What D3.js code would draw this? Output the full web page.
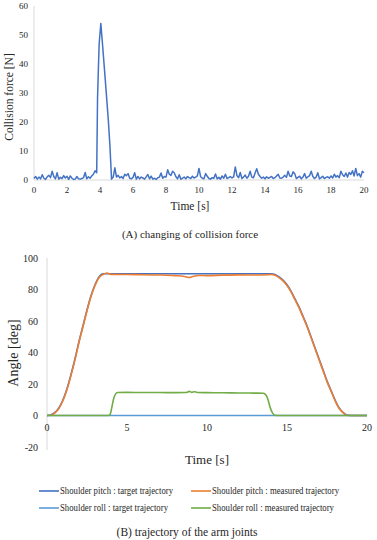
<!DOCTYPE html>
<html>
<head>
<meta charset="utf-8">
<script src="https://cdn.jsdelivr.net/npm/d3@7"></script>
<style>
  body { margin: 0; background: #fff; }
  svg text { font-family: "Liberation Serif", "DejaVu Serif", serif; fill: #262626; }
</style>
</head>
<body>
<div id="chart-area"></div>
<script>
// (A) collision force, [time, N]
var forceData = [
  [0.0,0.5],[0.1,1.2],[0.2,0.3],[0.3,1.0],[0.4,0.4],[0.5,1.8],[0.6,0.6],[0.7,0.2],[0.8,1.1],[0.9,1.6],
  [1.0,0.8],[1.1,3.0],[1.2,1.2],[1.3,0.4],[1.4,2.5],[1.5,0.3],[1.6,0.9],[1.7,0.5],[1.8,1.5],[1.9,0.7],
  [2.0,1.3],[2.1,0.2],[2.2,1.4],[2.3,0.6],[2.4,0.2],[2.5,0.3],[2.6,1.2],[2.7,0.4],[2.8,0.3],[2.9,0.5],
  [3.0,0.8],[3.1,2.6],[3.2,0.4],[3.3,1.1],[3.4,0.6],[3.5,1.4],[3.6,2.0],[3.7,3.2],[3.8,2.5],
  [3.85,28],[3.9,38],[3.95,47],[4.05,54],[4.15,47],[4.3,36],[4.5,21],[4.6,12],[4.7,0.3],[4.8,1.0],[4.9,4.2],
  [5.0,1.0],[5.1,1.6],[5.2,0.7],[5.3,1.2],[5.4,0.5],[5.5,2.0],[5.6,1.5],[5.7,2.2],[5.8,0.6],[5.9,0.4],
  [6.0,0.9],[6.1,2.5],[6.2,0.3],[6.3,1.2],[6.4,0.4],[6.5,1.0],[6.6,0.7],[6.7,0.3],[6.8,1.1],[6.9,1.9],
  [7.0,0.4],[7.1,1.3],[7.2,0.3],[7.3,0.6],[7.4,0.2],[7.5,0.8],[7.6,1.0],[7.7,2.4],[7.8,0.6],[7.9,1.2],
  [8.0,1.0],[8.1,3.5],[8.2,2.0],[8.3,1.6],[8.4,3.0],[8.5,2.5],[8.6,1.1],[8.7,0.4],[8.8,1.8],[8.9,0.3],
  [9.0,0.6],[9.1,1.0],[9.2,0.4],[9.3,1.2],[9.4,0.8],[9.5,0.5],[9.6,1.3],[9.7,0.7],[9.8,1.0],[9.9,1.4],
  [10.0,4.0],[10.1,1.1],[10.2,0.6],[10.3,0.4],[10.4,2.2],[10.5,1.3],[10.6,0.5],[10.7,0.3],[10.8,0.8],[10.9,0.6],
  [11.0,2.1],[11.1,0.4],[11.2,0.9],[11.3,0.3],[11.4,1.4],[11.5,0.6],[11.6,2.0],[11.7,0.5],[11.8,0.8],[11.9,1.2],
  [12.0,0.7],[12.1,1.1],[12.2,4.5],[12.3,1.5],[12.4,0.8],[12.5,2.6],[12.6,0.5],[12.7,1.0],[12.8,1.7],[12.9,0.6],
  [13.0,1.3],[13.1,3.0],[13.2,1.0],[13.3,0.8],[13.4,2.4],[13.5,3.9],[13.6,2.0],[13.7,1.2],[13.8,0.6],[13.9,1.0],
  [14.0,0.4],[14.1,1.1],[14.2,0.6],[14.3,0.9],[14.4,1.2],[14.5,0.5],[14.6,0.8],[14.7,1.4],[14.8,2.0],[14.9,0.7],
  [15.0,0.6],[15.1,1.0],[15.2,1.6],[15.3,0.9],[15.4,3.0],[15.5,1.4],[15.6,1.2],[15.7,2.8],[15.8,2.2],[15.9,0.5],
  [16.0,0.9],[16.1,1.3],[16.2,0.4],[16.3,1.0],[16.4,2.2],[16.5,0.6],[16.6,1.1],[16.7,1.5],[16.8,3.0],[16.9,1.2],
  [17.0,0.5],[17.1,1.0],[17.2,2.5],[17.3,0.4],[17.4,0.8],[17.5,1.3],[17.6,0.5],[17.7,0.9],[17.8,1.1],[17.9,0.6],
  [18.0,1.4],[18.1,0.7],[18.2,2.0],[18.3,1.0],[18.4,1.5],[18.5,0.8],[18.6,3.0],[18.7,1.8],[18.8,1.2],[18.9,2.4],
  [19.0,1.0],[19.1,2.6],[19.2,1.9],[19.3,3.2],[19.4,1.4],[19.5,4.0],[19.6,1.5],[19.7,2.2],[19.8,1.0],[19.9,3.0],
  [20.0,2.5]
];
var forceTicksX = [0,2,4,6,8,10,12,14,16,18,20];
var forceTicksY = [0,10,20,30,40,50,60];

// (B) joint trajectories, [time, deg]
var pitchTarget = [
  [0,0],[0.25,0.5],[0.5,2],[0.75,5],[1.0,10],[1.25,17],[1.5,26],[1.75,36],[2.0,47],[2.25,57],
  [2.5,67],[2.75,76],[3.0,83],[3.25,88],[3.5,90],[14.0,90],[14.25,89.5],[14.5,88],[14.75,86],
  [15.0,83],[15.25,79],[15.5,74],[15.75,69],[16.0,63],[16.25,57],[16.5,50],[16.75,43],[17.0,36],
  [17.25,29],[17.5,22],[17.75,16],[18.0,10],[18.25,5],[18.5,2],[18.75,0.3],[19.0,0],[20,0]
];
var pitchMeasured = [
  [0,0],[0.25,0.3],[0.5,1.6],[0.75,4.5],[1.0,9.5],[1.25,16.5],[1.5,25.5],[1.75,35.5],[2.0,46.5],[2.25,56.5],
  [2.5,66.5],[2.75,75.5],[3.0,82.5],[3.25,87.5],[3.5,89.5],[3.75,90.5],[4.0,89.6],[5.0,89.5],[6.0,89.4],
  [7.0,89.2],[8.0,88.8],[8.6,88.3],[8.9,87.6],[9.1,88.2],[9.5,88.9],[10.0,88.8],[11.0,89.1],[12.0,89.3],
  [13.0,89.2],[13.8,89.4],[14.0,89.5],[14.25,89],[14.5,87.5],[14.75,85.5],[15.0,82.5],[15.25,78.5],
  [15.5,73.5],[15.75,68.5],[16.0,62.5],[16.25,56.5],[16.5,49.5],[16.75,42.5],[17.0,35.5],[17.25,28.5],
  [17.5,21.5],[17.75,15.5],[18.0,9.5],[18.25,4.6],[18.5,1.8],[18.75,0.2],[19.0,0],[20,0]
];
var rollTarget = [[0,0],[20,0]];
var rollMeasured = [
  [0,0],[3.85,0],[3.95,0.8],[4.05,5],[4.15,10],[4.25,13],[4.4,14.6],[5.0,14.7],[6.0,14.6],[7.0,14.6],
  [8.0,14.5],[8.7,14.6],[8.9,15.3],[9.05,14.7],[9.2,15.1],[9.4,14.6],[10.0,14.5],[11.0,14.4],[12.0,14.3],
  [13.0,14.2],[13.5,14.1],[13.65,13.4],[13.8,10.5],[13.95,5],[14.1,1.5],[14.25,0.2],[14.4,0],[20,0]
];
var jointNames = [
  "Shoulder pitch : target trajectory",
  "Shoulder pitch : measured trajectory",
  "Shoulder roll : target trajectory",
  "Shoulder roll : measured trajectory"
];
var jointColors = ["#4472C4", "#ED7D31", "#5B9BD5", "#70AD47"];
var jointTicksX = [0,5,10,15,20];
var jointTicksY = [-20,0,20,40,60,80,100];

var width = 377, height = 540;

var svg = d3.select("#chart-area")
    .append("svg")
    .attr("width", width)
    .attr("height", height);

svg.append("rect").attr("width", width).attr("height", height).attr("fill", "#fff");

// ---------- (A) ----------
var xA = d3.scaleLinear().domain([0, 20]).range([34, 364]);
var yA = d3.scaleLinear().domain([0, 60]).range([180, 6]);

var gA = svg.append("g");

gA.append("line")
    .attr("x1", xA(0)).attr("x2", xA(0))
    .attr("y1", yA(60)).attr("y2", yA(0))
    .attr("stroke", "#d9d9d9");
gA.append("line")
    .attr("x1", xA(0)).attr("x2", xA(20))
    .attr("y1", yA(0)).attr("y2", yA(0))
    .attr("stroke", "#d9d9d9");

gA.selectAll(".ty")
    .data(forceTicksY)
    .enter().append("text")
        .attr("x", 28)
        .attr("y", function(d) { return yA(d) + 3; })
        .attr("text-anchor", "end")
        .attr("font-size", 9)
        .text(function(d) { return d; });

gA.selectAll(".tx")
    .data(forceTicksX)
    .enter().append("text")
        .attr("x", function(d) { return xA(d); })
        .attr("y", 193)
        .attr("text-anchor", "middle")
        .attr("font-size", 9)
        .text(function(d) { return d; });

gA.append("path")
    .datum(forceData)
    .attr("fill", "none")
    .attr("stroke", "#4472C4")
    .attr("stroke-width", 1.5)
    .attr("stroke-linejoin", "round")
    .attr("d", d3.line()
        .x(function(d) { return xA(d[0]); })
        .y(function(d) { return yA(d[1]); }));

gA.append("text")
    .attr("transform", "translate(13," + 97 + ") rotate(-90)")
    .attr("text-anchor", "middle")
    .attr("font-size", 11.5)
    .text("Collision force [N]");

gA.append("text")
    .attr("x", 190).attr("y", 210)
    .attr("text-anchor", "middle")
    .attr("font-size", 11.5)
    .text("Time [s]");

gA.append("text")
    .attr("x", 190).attr("y", 238)
    .attr("text-anchor", "middle")
    .attr("font-size", 11)
    .text("(A) changing of collision force");

// ---------- (B) ----------
var xB = d3.scaleLinear().domain([0, 20]).range([47, 367]);
var yB = d3.scaleLinear().domain([-20, 100]).range([447, 258]);

var gB = svg.append("g");

gB.append("line")
    .attr("x1", xB(0)).attr("x2", xB(0))
    .attr("y1", yB(100)).attr("y2", yB(-20) + 3)
    .attr("stroke", "#d9d9d9");
gB.append("line")
    .attr("x1", xB(0)).attr("x2", xB(20))
    .attr("y1", yB(0)).attr("y2", yB(0))
    .attr("stroke", "#d9d9d9");

gB.selectAll(".ty")
    .data(jointTicksY)
    .enter().append("text")
        .attr("x", 38)
        .attr("y", function(d) { return yB(d) + 3.5; })
        .attr("text-anchor", "end")
        .attr("font-size", 10)
        .text(function(d) { return d; });

gB.selectAll(".tx")
    .data(jointTicksX)
    .enter().append("text")
        .attr("x", function(d) { return xB(d); })
        .attr("y", yB(0) + 15)
        .attr("text-anchor", "middle")
        .attr("font-size", 10)
        .text(function(d) { return d; });

var lineB = d3.line()
    .x(function(d) { return xB(d[0]); })
    .y(function(d) { return yB(d[1]); })
    .curve(d3.curveMonotoneX);

var series = [pitchTarget, pitchMeasured, rollTarget, rollMeasured];

gB.selectAll(".series")
    .data(series)
    .enter().append("path")
        .attr("fill", "none")
        .attr("stroke", function(d, i) { return jointColors[i]; })
        .attr("stroke-width", 1.6)
        .attr("d", lineB);

gB.append("text")
    .attr("transform", "translate(18," + 353 + ") rotate(-90)")
    .attr("text-anchor", "middle")
    .attr("font-size", 14)
    .text("Angle  [deg]");

gB.append("text")
    .attr("x", 207).attr("y", 464)
    .attr("text-anchor", "middle")
    .attr("font-size", 13)
    .text("Time [s]");

// legend
var legX = [39, 191], legY = [491, 508];
var legW = [113, 127, 108, 122];
var leg = gB.selectAll(".leg")
    .data(jointNames)
    .enter().append("g")
        .attr("transform", function(d, i) {
            return "translate(" + legX[i % 2] + "," + legY[Math.floor(i / 2)] + ")";
        });

leg.append("line")
    .attr("x1", 0).attr("x2", 20)
    .attr("y1", 0).attr("y2", 0)
    .attr("stroke", function(d, i) { return jointColors[i]; })
    .attr("stroke-width", 1.6);

leg.append("text")
    .attr("x", 21)
    .attr("y", 3)
    .attr("font-size", 9.5)
    .attr("textLength", function(d, i) { return legW[i]; })
    .attr("lengthAdjust", "spacingAndGlyphs")
    .text(function(d) { return d; });

gB.append("text")
    .attr("x", 187).attr("y", 536)
    .attr("text-anchor", "middle")
    .attr("font-size", 11.5)
    .text("(B) trajectory of the arm joints");
</script>
</body>
</html>
